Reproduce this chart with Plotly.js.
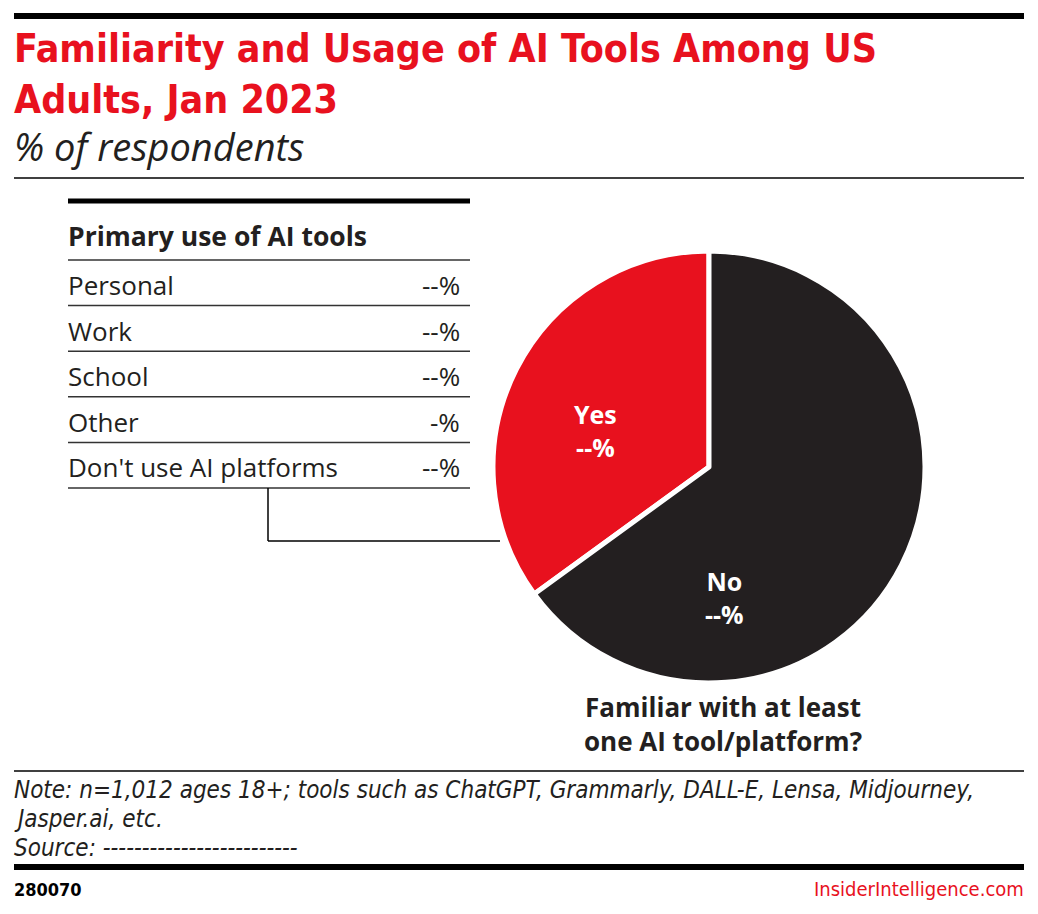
<!DOCTYPE html>
<html>
<head>
<meta charset="utf-8">
<script src="https://cdn.plot.ly/plotly-3.0.1.min.js"></script>
<style>
html,body{margin:0;padding:0;background:#fff;}
#chart{width:1038px;height:914px;}
</style>
</head>
<body>
<div id="chart"></div>
<script>
// ---- data ----
var pieLabels = ["Yes", "No"];
var pieValues = [35, 65];
var pieValueText = ["--%", "--%"];
var useCategories = ["Personal", "Work", "School", "Other", "Don't use AI platforms"];
var useValueText = ["--%", "--%", "--%", "-%", "--%"];

var titleText = "Familiarity and Usage of AI Tools Among US<br>Adults, Jan 2023";
var subtitleText = "% of respondents";
var tableHeader = "Primary use of AI tools";
var pieCaption = "Familiar with at least<br>one AI tool/platform?";
var noteLines = ["Note: n=1,012 ages 18+; tools such as ChatGPT, Grammarly, DALL-E, Lensa, Midjourney,", "Jasper.ai, etc.", "Source: -------------------------"];
var chartId = "280070";
var brand = "InsiderIntelligence.com";

// ---- layout helpers ----
var W = 1038, H = 914;
function px(x){ return x / W; }
function py(y){ return 1 - y / H; }
var RED = "#E8111E", DARK = "#231F20";
var titleFont = "'DejaVu Sans Condensed', 'Roboto', sans-serif";
var bodyFont = "'Open Sans', 'Noto Sans', sans-serif";

var shapes = [];
var annotations = [];
function hline(x0, x1, y, w, color){
  shapes.push({type:"line", xref:"paper", yref:"paper", x0:px(x0), x1:px(x1), y0:py(y), y1:py(y), line:{color:color||"#000", width:w}});
}
function vline(x, y0, y1, w, color){
  shapes.push({type:"line", xref:"paper", yref:"paper", x0:px(x), x1:px(x), y0:py(y0), y1:py(y1), line:{color:color||"#000", width:w}});
}
function text(t, x, y, size, opts){
  opts = opts || {};
  annotations.push({
    text: t, xref:"paper", yref:"paper", x:px(x), y:py(y),
    xanchor: opts.xanchor || "left", yanchor: opts.yanchor || "middle",
    showarrow:false, align: opts.align || "left",
    font:{family: opts.family || bodyFont, size:size, color: opts.color || DARK, weight: opts.weight || 400, style: opts.style || "normal"}
  });
}

// frame lines
hline(14, 1024, 16, 6, "#000");
hline(14, 1024, 178, 1.5, "#000");
hline(14, 1024, 771, 1.5, "#000");
hline(14, 1024, 867, 6, "#000");

// title / subtitle
text(titleText, 12, 74, 39, {family:titleFont, color:RED, weight:700});
text(subtitleText, 12, 146, 38, {family:bodyFont, style:"italic", weight:400});

// table
hline(68, 470, 201, 5, "#000");
text(tableHeader, 66, 236, 26.5, {weight:700});
var rowTop = 260, rowH = 45.6;
hline(68, 470, rowTop, 1.5, "#333");
for (var i = 0; i < useCategories.length; i++) {
  var yMid = rowTop + rowH * (i + 0.55);
  text(useCategories[i], 66, yMid, 26, {});
  text(useValueText[i], 462, yMid, 26, {xanchor:"right", align:"right"});
  hline(68, 470, rowTop + rowH * (i + 1), 1.5, "#333");
}
// connector
var tableBottom = rowTop + rowH * useCategories.length;
vline(268, tableBottom, 541, 1.5, "#000");
hline(268, 500, 541, 1.5, "#000");

// slice labels (placed as in the original design)
var sliceLabelPos = [[595, 430], [724, 597]];
for (var k = 0; k < pieLabels.length; k++) {
  text(pieLabels[k] + "<br>" + pieValueText[k], sliceLabelPos[k][0], sliceLabelPos[k][1], 25,
       {weight:700, color:"#fff", xanchor:"center", align:"center"});
}

// pie caption
text(pieCaption, 723, 724, 26, {weight:700, xanchor:"center", align:"center"});

// notes
for (var j = 0; j < noteLines.length; j++) {
  text(noteLines[j], 12, 790 + j * 29, 24, {family:titleFont, style:"italic"});
}
// footer
text(chartId, 12, 889, 18, {family:titleFont, weight:700, color:"#000"});
text(brand, 1026, 889, 20, {family:titleFont, color:RED, xanchor:"right", align:"right"});

// first slice ("Yes") should end at 12 o'clock, drawn clockwise
var firstShare = pieValues[0] / pieValues.reduce(function(a, b){ return a + b; }, 0);

var trace = {
  type: "pie",
  labels: pieLabels,
  values: pieValues,
  text: pieValueText,
  textinfo: "none",
  sort: false,
  direction: "clockwise",
  rotation: -360 * firstShare,
  marker: {colors: [RED, DARK], line: {color: "#fff", width: 5}},
  hoverinfo: "none",
  domain: {x: [px(493), px(925)], y: [py(683), py(251)]},
  showlegend: false
};

var layout = {
  width: W, height: H,
  margin: {l:0, r:0, t:0, b:0},
  paper_bgcolor: "#fff",
  plot_bgcolor: "#fff",
  showlegend: false,
  shapes: shapes,
  annotations: annotations
};

Plotly.newPlot("chart", [trace], layout, {displayModeBar:false, staticPlot:true});
</script>
</body>
</html>
